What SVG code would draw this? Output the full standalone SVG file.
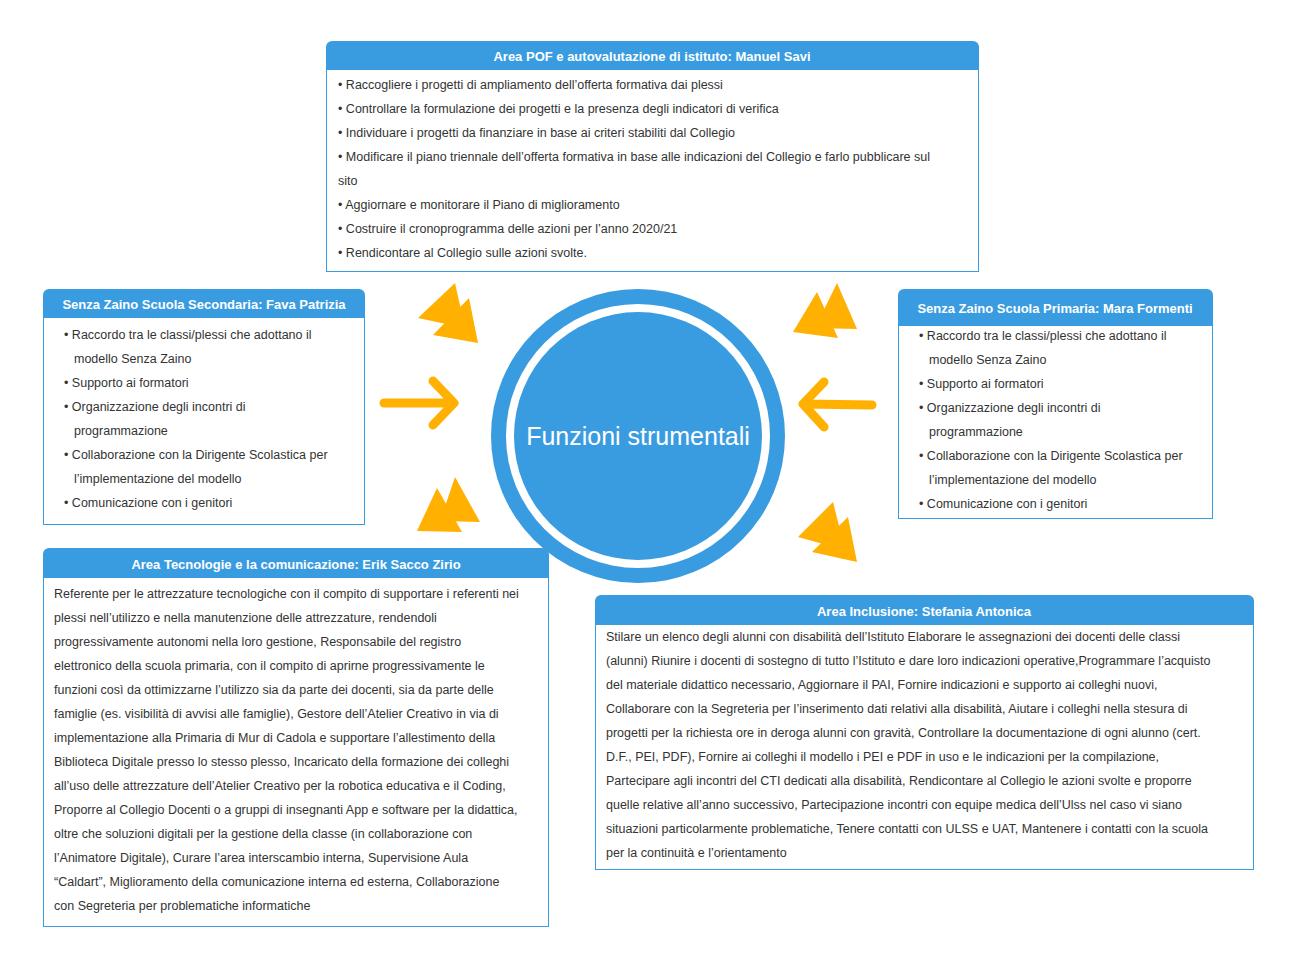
<svg xmlns="http://www.w3.org/2000/svg" width="1301" height="957" viewBox="0 0 1301 957">
<style>
.box{fill:#fff;stroke:#3a9ce0;stroke-width:1}
.hd{fill:#3a9ce0}
.ht{font-family:"Liberation Sans",Arial,sans-serif;font-size:13px;font-weight:bold;fill:#fff;text-anchor:middle}
.t{font-family:"Liberation Sans",Arial,sans-serif;font-size:12.5px;fill:#333}
.ar{fill:#ffb000}
.al{stroke:#ffb000;stroke-width:9;fill:none;stroke-linecap:round;stroke-linejoin:round}
</style>
<rect width="1301" height="957" fill="#fff"/>
<g id="connectors">
<polygon class="ar" points="418,318 455,283 465,328"/><polygon class="ar" points="433,335 469,298 478,343"/>
<polygon class="ar" points="417,531 437,488 462,532"/><polygon class="ar" points="440,521 455,477 480,522"/>
<polygon class="ar" points="793,332 817,292 838,338"/><polygon class="ar" points="815,328 837,283 857,329"/>
<polygon class="ar" points="798,537 833,502 845,550"/><polygon class="ar" points="812,552 848,517 857,562"/>
<path class="al" d="M384,403H453M433,381L454,403L433,425"/>
<path class="al" d="M872,405L805,404M824,382L803,404L824,427"/>
</g>
<g id="center">
<circle cx="638" cy="436" r="147" fill="#3a9ce0"/>
<circle cx="638" cy="436" r="132" fill="#fff"/>
<circle cx="638" cy="436" r="124" fill="#3a9ce0"/>
<text x="638" y="445" font-family="Liberation Sans,Arial,sans-serif" font-size="25" fill="#fff" text-anchor="middle">Funzioni strumentali</text>
</g>
<g id="pof">
<rect class="box" x="326.5" y="55.5" width="652" height="216"/>
<path class="hd" d="M326,70V47a6,6 0 0 1 6,-6H973a6,6 0 0 1 6,6V70Z"/>
<text class="ht" x="652" y="61">Area POF e autovalutazione di istituto: Manuel Savi</text>
<text class="t" x="338" y="89">• Raccogliere i progetti di ampliamento dell’offerta formativa dai plessi</text>
<text class="t" x="338" y="113">• Controllare la formulazione dei progetti e la presenza degli indicatori di verifica</text>
<text class="t" x="338" y="137">• Individuare i progetti da finanziare in base ai criteri stabiliti dal Collegio</text>
<text class="t" x="338" y="161">• Modificare il piano triennale dell’offerta formativa in base alle indicazioni del Collegio e farlo pubblicare sul</text>
<text class="t" x="338" y="185">sito</text>
<text class="t" x="338" y="209">• Aggiornare e monitorare il Piano di miglioramento</text>
<text class="t" x="338" y="233">• Costruire il cronoprogramma delle azioni per l’anno 2020/21</text>
<text class="t" x="338" y="257">• Rendicontare al Collegio sulle azioni svolte.</text>
</g>
<g id="secondaria">
<rect class="box" x="43.5" y="300.5" width="321" height="224"/>
<path class="hd" d="M43,318V295a6,6 0 0 1 6,-6H359a6,6 0 0 1 6,6V318Z"/>
<text class="ht" x="204" y="309">Senza Zaino Scuola Secondaria: Fava Patrizia</text>
<text class="t" x="64" y="339">• Raccordo tra le classi/plessi che adottano il</text>
<text class="t" x="74" y="363">modello Senza Zaino</text>
<text class="t" x="64" y="387">• Supporto ai formatori</text>
<text class="t" x="64" y="411">• Organizzazione degli incontri di</text>
<text class="t" x="74" y="435">programmazione</text>
<text class="t" x="64" y="459">• Collaborazione con la Dirigente Scolastica per</text>
<text class="t" x="74" y="483">l’implementazione del modello</text>
<text class="t" x="64" y="507">• Comunicazione con i genitori</text>
</g>
<g id="primaria">
<rect class="box" x="898.5" y="305.5" width="314" height="213"/>
<path class="hd" d="M898,326V295a6,6 0 0 1 6,-6H1207a6,6 0 0 1 6,6V326Z"/>
<text class="ht" x="1055" y="313">Senza Zaino Scuola Primaria: Mara Formenti</text>
<text class="t" x="919" y="340">• Raccordo tra le classi/plessi che adottano il</text>
<text class="t" x="929" y="364">modello Senza Zaino</text>
<text class="t" x="919" y="388">• Supporto ai formatori</text>
<text class="t" x="919" y="412">• Organizzazione degli incontri di</text>
<text class="t" x="929" y="436">programmazione</text>
<text class="t" x="919" y="460">• Collaborazione con la Dirigente Scolastica per</text>
<text class="t" x="929" y="484">l’implementazione del modello</text>
<text class="t" x="919" y="508">• Comunicazione con i genitori</text>
</g>
<g id="tecnologie">
<rect class="box" x="43.5" y="565.5" width="505" height="361"/>
<path class="hd" d="M43,578V554a6,6 0 0 1 6,-6H543a6,6 0 0 1 6,6V578Z"/>
<text class="ht" x="296" y="569">Area Tecnologie e la comunicazione: Erik Sacco Zirio</text>
<text class="t" x="54" y="598">Referente per le attrezzature tecnologiche con il compito di supportare i referenti nei</text>
<text class="t" x="54" y="622">plessi nell’utilizzo e nella manutenzione delle attrezzature,  rendendoli</text>
<text class="t" x="54" y="646">progressivamente autonomi nella loro gestione, Responsabile del registro</text>
<text class="t" x="54" y="670">elettronico della scuola primaria, con il compito di aprirne progressivamente le</text>
<text class="t" x="54" y="694">funzioni così da ottimizzarne l’utilizzo sia da parte dei docenti, sia da parte delle</text>
<text class="t" x="54" y="718">famiglie (es. visibilità di avvisi alle famiglie), Gestore dell’Atelier Creativo in via di</text>
<text class="t" x="54" y="742">implementazione alla Primaria di Mur di Cadola e supportare l’allestimento della</text>
<text class="t" x="54" y="766">Biblioteca Digitale presso lo stesso plesso, Incaricato della formazione dei colleghi</text>
<text class="t" x="54" y="790">all’uso delle attrezzature dell’Atelier Creativo per la robotica educativa e il Coding,</text>
<text class="t" x="54" y="814">Proporre al Collegio Docenti o a gruppi di insegnanti App e software per la didattica,</text>
<text class="t" x="54" y="838">oltre che soluzioni digitali per la gestione della classe (in collaborazione con</text>
<text class="t" x="54" y="862">l’Animatore Digitale), Curare l’area interscambio interna, Supervisione Aula</text>
<text class="t" x="54" y="886">“Caldart”, Miglioramento della comunicazione interna ed esterna, Collaborazione</text>
<text class="t" x="54" y="910">con Segreteria per problematiche informatiche</text>
</g>
<g id="inclusione">
<rect class="box" x="595.5" y="612.5" width="658" height="257"/>
<path class="hd" d="M595,625V601a6,6 0 0 1 6,-6H1248a6,6 0 0 1 6,6V625Z"/>
<text class="ht" x="924" y="616">Area Inclusione: Stefania Antonica</text>
<text class="t" x="606" y="641">Stilare un elenco degli alunni con disabilità dell’Istituto Elaborare le assegnazioni dei docenti delle classi</text>
<text class="t" x="606" y="665">(alunni) Riunire i docenti di sostegno di tutto l’Istituto e dare loro indicazioni operative,Programmare l’acquisto</text>
<text class="t" x="606" y="689">del materiale didattico necessario, Aggiornare il PAI, Fornire indicazioni e supporto ai colleghi nuovi,</text>
<text class="t" x="606" y="713">Collaborare con la Segreteria per l’inserimento dati relativi alla disabilità, Aiutare i colleghi nella stesura di</text>
<text class="t" x="606" y="737">progetti per la richiesta ore in deroga alunni con gravità, Controllare la documentazione di ogni alunno (cert.</text>
<text class="t" x="606" y="761">D.F., PEI, PDF), Fornire ai colleghi il modello i PEI e PDF in uso e le indicazioni per la compilazione,</text>
<text class="t" x="606" y="785">Partecipare agli incontri del CTI dedicati alla disabilità, Rendicontare al Collegio le azioni svolte e proporre</text>
<text class="t" x="606" y="809">quelle relative all’anno successivo, Partecipazione incontri con equipe medica dell’Ulss nel caso vi siano</text>
<text class="t" x="606" y="833">situazioni particolarmente problematiche, Tenere contatti con ULSS e UAT, Mantenere i contatti con la scuola</text>
<text class="t" x="606" y="857">per la continuità e l’orientamento</text>
</g>
</svg>
